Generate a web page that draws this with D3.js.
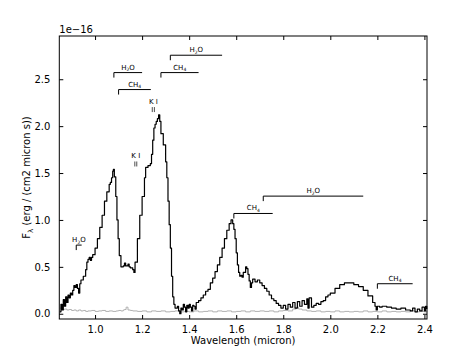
<!DOCTYPE html>
<html><head><meta charset="utf-8">
<script src="https://cdn.jsdelivr.net/npm/d3@7"></script>
<style>body{margin:0;background:#fff}svg{display:block}text{font-family:"DejaVu Sans",sans-serif;fill:#000}</style>
</head><body><svg id="c" width="474" height="355"></svg>
<script>
const wave = [0.850,0.855,0.860,0.865,0.870,0.875,0.880,0.885,0.890,0.895,0.900,0.905,0.910,0.915,0.920,0.925,0.930,0.935,0.940,0.950,0.960,0.965,0.970,0.975,0.980,0.985,0.990,1.000,1.010,1.020,1.030,1.040,1.050,1.060,1.065,1.070,1.075,1.078,1.082,1.088,1.093,1.098,1.103,1.110,1.120,1.125,1.130,1.140,1.145,1.150,1.160,1.165,1.170,1.180,1.190,1.200,1.210,1.215,1.225,1.235,1.240,1.245,1.250,1.255,1.260,1.265,1.270,1.275,1.280,1.290,1.300,1.305,1.310,1.315,1.320,1.325,1.330,1.335,1.340,1.350,1.355,1.360,1.365,1.370,1.375,1.380,1.385,1.390,1.395,1.400,1.405,1.410,1.415,1.420,1.425,1.430,1.440,1.450,1.460,1.470,1.480,1.490,1.500,1.510,1.520,1.530,1.540,1.550,1.560,1.570,1.578,1.585,1.590,1.595,1.600,1.605,1.610,1.615,1.620,1.625,1.630,1.640,1.645,1.650,1.655,1.660,1.665,1.670,1.680,1.690,1.700,1.710,1.720,1.730,1.740,1.750,1.760,1.770,1.780,1.790,1.800,1.810,1.820,1.830,1.840,1.850,1.860,1.870,1.880,1.890,1.900,1.905,1.910,1.920,1.930,1.940,1.950,1.960,1.970,1.980,1.990,2.000,2.020,2.040,2.060,2.080,2.100,2.120,2.140,2.160,2.180,2.190,2.195,2.200,2.210,2.220,2.240,2.260,2.280,2.300,2.320,2.340,2.350,2.360,2.370,2.380,2.390,2.400,2.405,2.410];
const flux = [0.02,0.10,0.04,0.15,0.08,0.18,0.12,0.20,0.17,0.22,0.20,0.25,0.30,0.28,0.31,0.27,0.22,0.32,0.36,0.40,0.47,0.55,0.58,0.60,0.57,0.60,0.63,0.70,0.80,0.92,1.05,1.20,1.30,1.38,1.40,1.45,1.52,1.54,1.46,1.25,1.00,0.80,0.62,0.50,0.51,0.54,0.51,0.53,0.50,0.49,0.47,0.44,0.55,0.80,1.05,1.25,1.45,1.56,1.58,1.60,1.70,1.85,1.98,2.02,2.05,2.08,2.12,2.05,1.92,1.80,1.62,1.45,1.20,0.95,0.70,0.40,0.18,0.10,0.06,0.08,0.03,0.00,0.06,0.04,0.10,0.07,0.02,0.09,0.06,0.10,0.07,0.03,0.09,0.08,0.05,0.12,0.14,0.17,0.20,0.24,0.26,0.33,0.38,0.45,0.52,0.60,0.70,0.80,0.89,0.96,1.00,0.96,0.90,0.80,0.65,0.52,0.44,0.40,0.41,0.39,0.44,0.50,0.48,0.42,0.35,0.28,0.33,0.37,0.34,0.36,0.33,0.30,0.27,0.24,0.20,0.16,0.14,0.11,0.09,0.06,0.09,0.05,0.10,0.07,0.12,0.06,0.13,0.08,0.14,0.10,0.16,0.06,0.17,0.07,0.09,0.11,0.10,0.13,0.14,0.18,0.20,0.22,0.27,0.31,0.33,0.33,0.31,0.29,0.25,0.19,0.12,0.08,0.04,0.08,0.07,0.08,0.07,0.06,0.05,0.06,0.04,0.03,0.06,0.02,0.05,0.03,0.07,0.03,0.08,0.05];
const errWave = [0.850,0.860,0.870,0.880,0.890,0.900,0.910,0.920,0.930,0.940,0.950,0.960,0.970,0.985,1.000,1.015,1.030,1.045,1.060,1.075,1.090,1.100,1.110,1.120,1.125,1.132,1.140,1.150,1.160,1.180,1.200,1.220,1.240,1.260,1.280,1.300,1.320,1.340,1.360,1.380,1.400,1.420,1.440,1.460,1.480,1.500,1.520,1.540,1.560,1.580,1.600,1.620,1.640,1.660,1.680,1.700,1.720,1.740,1.760,1.780,1.800,1.820,1.840,1.855,1.865,1.880,1.900,1.920,1.940,1.960,1.980,2.000,2.020,2.040,2.060,2.080,2.100,2.120,2.140,2.160,2.180,2.200,2.220,2.240,2.260,2.280,2.300,2.320,2.340,2.360,2.380,2.400,2.410];
const errFlux = [0.06,0.045,0.05,0.04,0.045,0.035,0.04,0.03,0.04,0.03,0.035,0.025,0.03,0.035,0.025,0.03,0.035,0.025,0.03,0.025,0.03,0.035,0.03,0.04,0.045,0.07,0.04,0.035,0.03,0.025,0.03,0.02,0.03,0.025,0.03,0.02,0.025,0.03,0.02,0.025,0.02,0.03,0.02,0.025,0.03,0.02,0.03,0.025,0.03,0.02,0.025,0.03,0.02,0.03,0.025,0.03,0.025,0.03,0.02,0.03,0.035,0.03,0.05,0.07,0.05,0.04,0.03,0.025,0.03,0.02,0.025,0.02,0.03,0.02,0.025,0.02,0.025,0.02,0.03,0.02,0.025,0.02,0.03,0.02,0.025,0.02,0.025,0.02,0.03,0.02,0.025,0.02,0.03];
const xTicks = [1.0,1.2,1.4,1.6,1.8,2.0,2.2,2.4];
const yTicks = [0.0,0.5,1.0,1.5,2.0,2.5];
// bands: [start, end, level, molecule parts]
const bandStart = [0.920,1.080,1.100,1.280,1.320,1.590,1.715,2.200];
const bandEnd   = [0.943,1.200,1.237,1.440,1.540,1.755,2.140,2.350];
const bandLevel = [0.732,2.571,2.390,2.571,2.756,1.069,1.254,0.320];
const bandName  = ["H2O","H2O","CH4","CH4","H2O","CH4","H2O","CH4"];
const kiLines = [[1.1690,1.1773],[1.2432,1.2522]];
const kiLevel = [1.57,2.15];

const svg = d3.select("#c");
const L=59.3,R=427,T=36,B=319;
const x = d3.scaleLinear().domain([0.848,2.411]).range([L,R]);
const y = d3.scaleLinear().domain([-0.056,2.961]).range([B,T]);

// lines
const line = d3.line().x(d=>x(d[0])).y(d=>y(d[1])).curve(d3.curveStepAfter);
svg.append("path").datum(errWave.map((w,i)=>[w,errFlux[i]])).attr("d",d3.line().x(d=>x(d[0])).y(d=>y(d[1])).curve(d3.curveStepAfter)).attr("fill","none").attr("stroke","#b0b0b0").attr("stroke-width",1);
svg.append("path").datum(wave.map((w,i)=>[w,flux[i]])).attr("d",line).attr("fill","none").attr("stroke","#000").attr("stroke-width",1.2).attr("stroke-linejoin","round");

// frame
svg.append("rect").attr("x",L).attr("y",T).attr("width",R-L).attr("height",B-T).attr("fill","none").attr("stroke","#000").attr("stroke-width",1);

// axes with inward ticks
const gb = svg.append("g").attr("transform",`translate(0,${B})`).call(d3.axisBottom(x).tickValues(xTicks).tickSize(-4).tickPadding(7).tickFormat(d3.format(".1f")));
const gt = svg.append("g").attr("transform",`translate(0,${T})`).call(d3.axisTop(x).tickValues(xTicks).tickSize(-4).tickFormat(""));
const gl = svg.append("g").attr("transform",`translate(${L},0)`).call(d3.axisLeft(y).tickValues(yTicks).tickSize(-4).tickPadding(9).tickFormat(d3.format(".1f")));
const gr = svg.append("g").attr("transform",`translate(${R},0)`).call(d3.axisRight(y).tickValues(yTicks).tickSize(-4).tickFormat(""));
[gb,gt,gl,gr].forEach(g=>{g.select(".domain").remove();g.selectAll("text").attr("font-size",10).attr("font-family","DejaVu Sans").attr("fill","#000");g.selectAll("line").attr("stroke","#000");});

svg.append("text").attr("x",L).attr("y",33).attr("font-size",10).text("1e\u221216");
svg.append("text").attr("x",(L+R)/2).attr("y",344).attr("text-anchor","middle").attr("font-size",10).text("Wavelength (micron)");
const yl = svg.append("text").attr("transform",`translate(30,${(T+B)/2}) rotate(-90)`).attr("text-anchor","middle").attr("font-size",10);
yl.append("tspan").text("F");
yl.append("tspan").attr("font-size",7).attr("dy",3).text("\u03bb");
yl.append("tspan").attr("dy",-3).text(" (erg / (cm2 micron s))");

// bands
bandStart.forEach((s,i)=>{
  const g = svg.append("g");
  const x1=x(s),x2=x(bandEnd[i]),yy=y(bandLevel[i]);
  g.append("path").attr("d",`M${x1},${yy+5}V${yy}H${x2}`).attr("fill","none").attr("stroke","#000").attr("stroke-width",1);
  const t = g.append("text").attr("x",(x1+x2)/2).attr("y",yy-3).attr("text-anchor","middle").attr("font-size",7);
  const m = bandName[i].match(/^([A-Z]+)(\d)(.*)$/);
  t.append("tspan").text(m[1]);
  t.append("tspan").attr("font-size",4.5).attr("dy",1.5).text(m[2]);
  if (m[3]) t.append("tspan").attr("dy",-1.5).text(m[3]);
});
// K I doublets
kiLines.forEach((pr,i)=>{
  const cx = x((pr[0]+pr[1])/2), yy=y(kiLevel[i]);
  svg.append("text").attr("x",cx).attr("y",yy-8).attr("text-anchor","middle").attr("font-size",7).text("K I");
  pr.forEach(w=>svg.append("line").attr("x1",x(w)).attr("x2",x(w)).attr("y1",yy-5).attr("y2",yy).attr("stroke","#000").attr("stroke-width",0.7));
});
</script></body></html>
